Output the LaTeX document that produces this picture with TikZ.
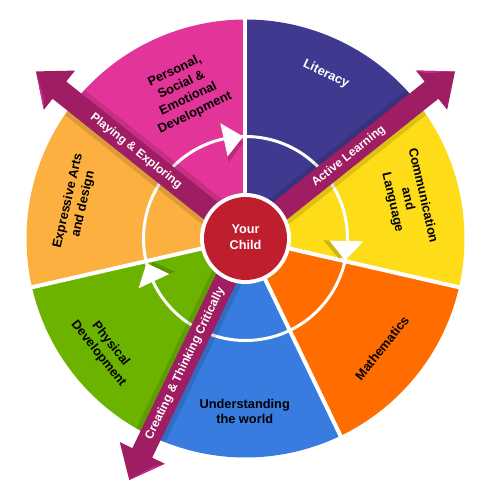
\documentclass[tikz,border=0pt]{standalone}
\usepackage{fontspec}
\setmainfont{Liberation Sans}
\usetikzlibrary{calc}
\definecolor{cLit}{HTML}{3F3A8F}
\definecolor{cCom}{HTML}{FEDC18}
\definecolor{cMat}{HTML}{FF6D00}
\definecolor{cUnd}{HTML}{387CDF}
\definecolor{cPhy}{HTML}{6CB300}
\definecolor{cExp}{HTML}{FBB040}
\definecolor{cPer}{HTML}{E33599}
\definecolor{cRed}{HTML}{BE1E2D}
\definecolor{cArr}{HTML}{9E1D63}
\definecolor{cArrL}{HTML}{C8278B}
\tikzset{
  seclbl/.style={font=\bfseries\fontsize{12.8}{15.5}\selectfont, align=center, text=black, inner sep=0pt},
  arrlbl/.style={font=\bfseries\fontsize{12}{14}\selectfont, text=white, inner sep=0pt},
}
\begin{document}
\begin{tikzpicture}[x=1pt,y=1pt]
\useasboundingbox[fill=white] (-245.5,-252.5) rectangle (245.5,238.5);
% sectors
\foreach \c/\a in {cLit/90, cCom/38.57, cMat/-12.86, cUnd/-64.29, cPhy/-115.71, cExp/-167.14, cPer/-218.57}{
  \fill[\c] (0,0) -- (\a:219) arc[start angle=\a, delta angle=-51.43, radius=219] -- cycle;
}
% separators
\foreach \a in {90, 38.57, -12.86, -64.29, -115.71, -167.14, 141.43}{
  \draw[white, line width=4pt] (0,0) -- (\a:222);
}
% inner ring
\draw[white, line width=3pt] (0,0) circle (102);
\foreach \t in {91.3,-12.4,-166}{
  \fill[black, opacity=0.18] (\t:96) -- ({\t+11}:112) -- ({\t+11}:78) -- cycle;
  \fill[white] (\t:102) -- ({\t+11}:118) -- ({\t+11}:84) -- cycle;
}
% arrow shadows
\begin{scope}
  \clip (0,0) circle (219);
  \foreach \A in {141.43, 38.57, -115.71}{
    \fill[black, opacity=0.12, rotate=\A] (0,-16) rectangle (230,16);
  }
\end{scope}
% arrows
\foreach \A in {141.43, 38.57, -115.71}{
  \begin{scope}[rotate=\A]
    \fill[cArr] (0,-11) -- (238,-11) -- (238,-25) -- (268,0) -- (238,25) -- (238,11) -- (0,11) -- cycle;
    \fill[cArrL] (268,0) -- (238,25) -- (245,16) -- cycle;
  \end{scope}
}
% centre
\fill[white] (0,0) circle (45.5);
\fill[cRed] (0,0) circle (41.5);
\node[font=\bfseries\fontsize{12.7}{16}\selectfont, text=white, align=center] (child) at (0,1) {Your\\Child};
% arrow labels
\node[arrlbl, rotate=-38.57] (play) at (141.43:140) {Playing \& Exploring};
\node[arrlbl, rotate=38.57] (active) at (38.57:132) {Active Learning};
\node[arrlbl, rotate=64.29] (create) at (-115.71:139) {Creating \& Thinking Critically};
% sector labels
\node[seclbl, rotate=25.71] (pers) at (-60.5,146.5) {Personal,\\Social \&\\Emotional\\Development};
\node[seclbl, rotate=-25.71, text=white] (lit) at (80.5,164.5) {Literacy};
\node[seclbl, rotate=-77.14] (comm) at (162,39.5) {Communication\\and\\Language};
\node[seclbl, rotate=51.43] (math) at (136.5,-109.5) {Mathematics};
\node[seclbl] (und) at (-0.8,-173) {Understanding\\the world};
\node[seclbl, rotate=-51.43] (phys) at (-141,-110.5) {Physical\\Development};
\node[seclbl, rotate=77.14] (expr) at (-169.7,36) {Expressive Arts\\and design};
\end{tikzpicture}
\end{document}
